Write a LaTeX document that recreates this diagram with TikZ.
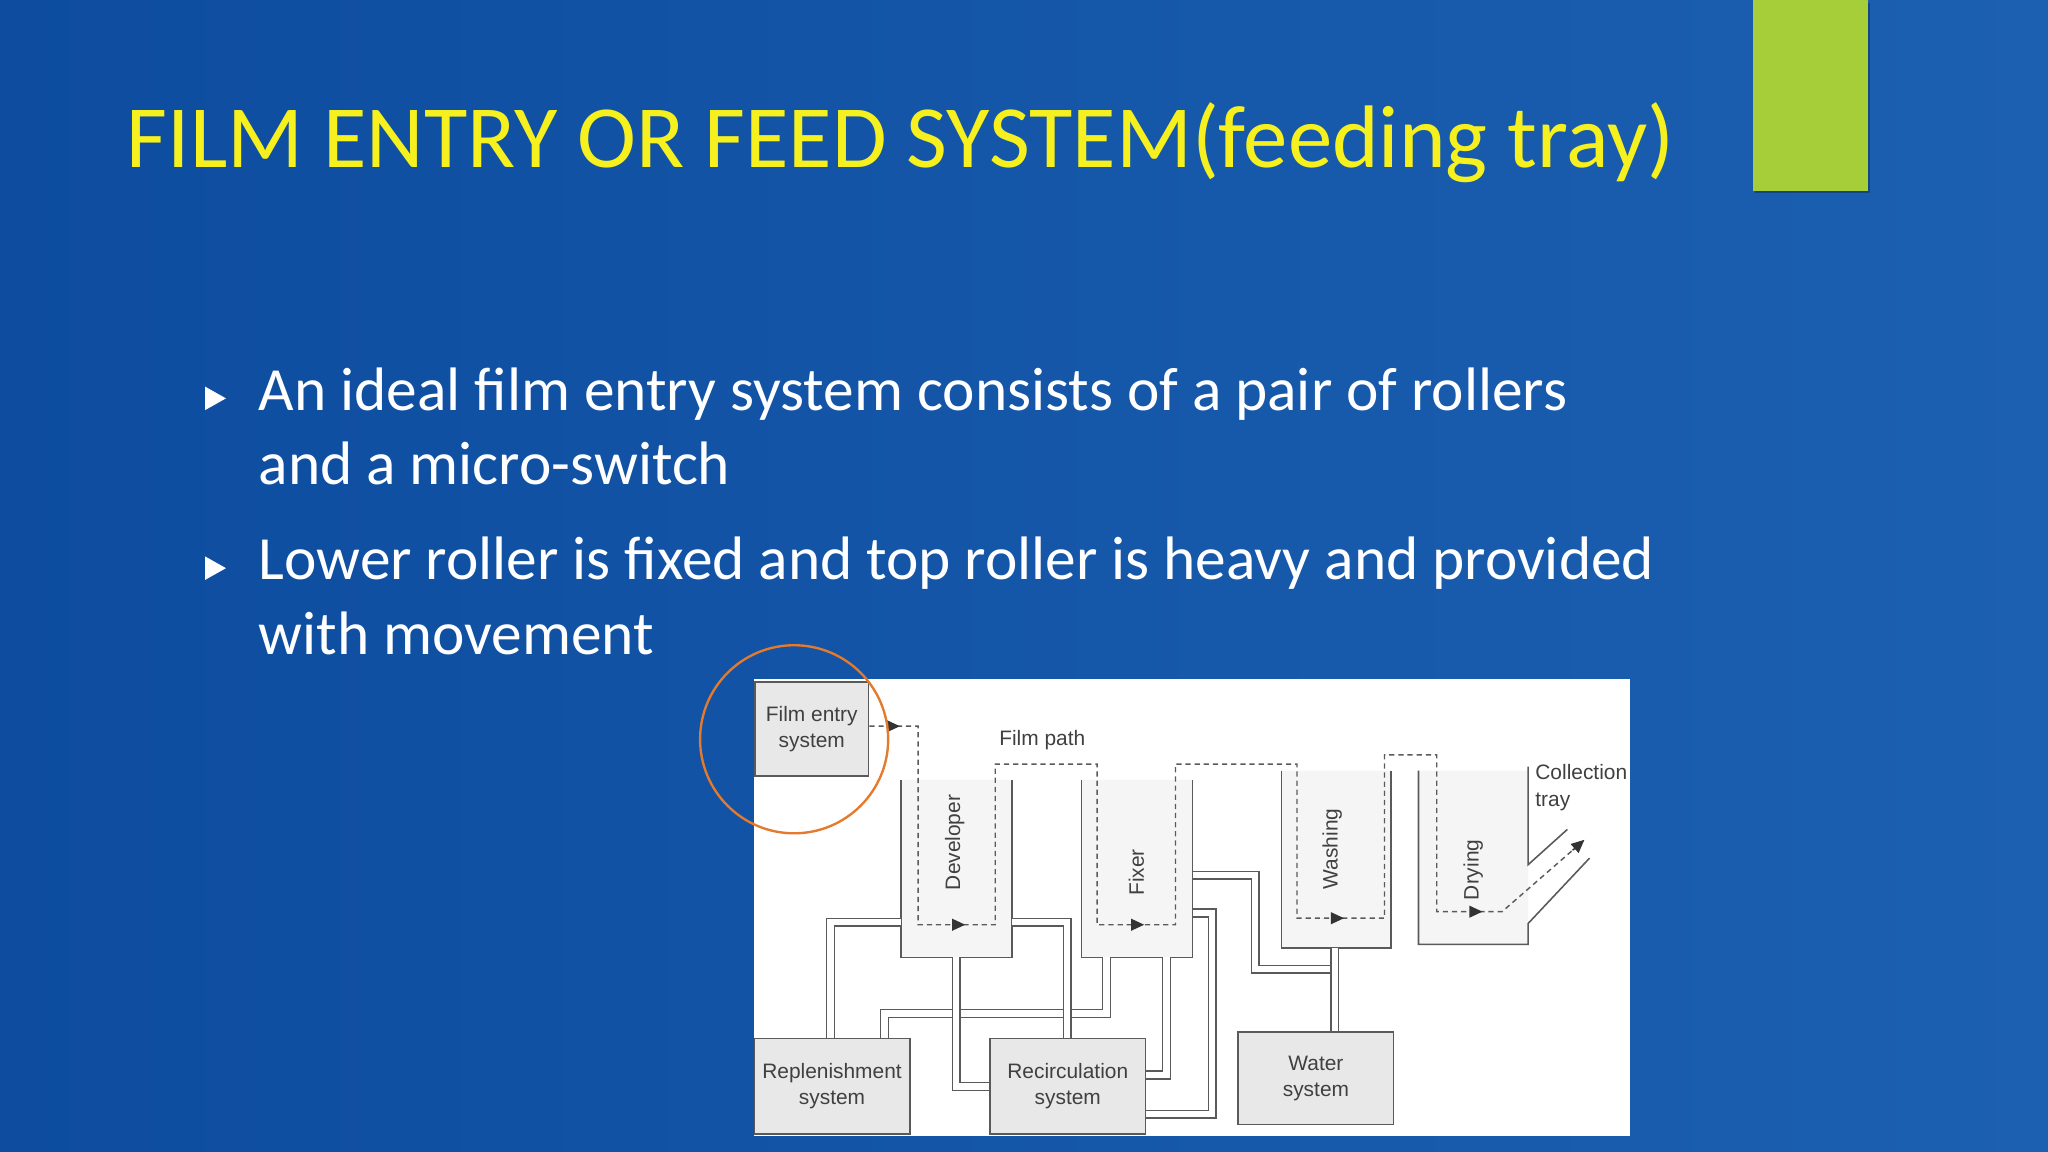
\documentclass[tikz,border=0pt]{standalone}
\usepackage{fontspec}
\setmainfont{Carlito}
\newfontfamily\diagfont{Liberation Sans}
\usetikzlibrary{arrows.meta}
\definecolor{bgblue}{RGB}{13,76,158}
\definecolor{bgblueB}{RGB}{28,96,178}
\definecolor{ttl}{RGB}{245,240,30}
\definecolor{grn}{RGB}{166,206,57}
\definecolor{ornge}{RGB}{228,122,44}
\definecolor{ln}{RGB}{90,90,90}
\tikzset{
 bullet/.style={white,font=\fontsize{47}{56}\selectfont,anchor=base west,inner sep=0},
 box/.style={draw=ln,line width=1.2pt,fill=gray!18,font=\diagfont\fontsize{16}{20}\selectfont,text=black!75,align=center,inner sep=0pt},
 tank/.style={draw=ln,line width=1.2pt},
 pipe/.style={draw=ln,line width=1pt,double=white,double distance=5pt},
 film/.style={draw=ln,line width=1.1pt,dash pattern=on 4pt off 3pt},
 lbl/.style={font=\diagfont\fontsize{16}{20}\selectfont,text=black!75},
 tip/.style={-{Triangle[length=10pt,width=9pt]},black!80,line width=1.1pt}
}
\begin{document}
\begin{tikzpicture}[x=1pt,y=-1pt]
\useasboundingbox (0,0) rectangle (1568,882);
\shade[left color=bgblue,right color=bgblueB] (0,0) rectangle (1568,882);
\fill[black,opacity=0.25] (1344,2) rectangle (1432,148);
\fill[grn] (1342,0) rectangle (1430,146);
\node[ttl,anchor=base west,font=\fontsize{68}{72}\selectfont,inner sep=0] (title) at (97,128) {FILM ENTRY OR FEED SYSTEM(feeding tray)};
\fill[white] (157,296) -- (173,305) -- (157,314) -- cycle;
\node[bullet] (t1a) at (198,314) {An ideal film entry system consists of a pair of rollers};
\node[bullet] (t1b) at (198,371) {and a micro-switch};
\fill[white] (157,426) -- (173,435) -- (157,444) -- cycle;
\node[bullet] (t2a) at (198,444) {Lower roller is fixed and top roller is heavy and provided};
\node[bullet] (t2b) at (198,501) {with movement};
% diagram panel
\fill[white] (577,520) rectangle (1248,870);
\begin{scope}
\clip (577,520) rectangle (1248,870);
\fill[gray!8] (690,597) rectangle (775,733) (828,597) rectangle (913,733) (981,590) rectangle (1065,726) (1086,590) rectangle (1170,723);
\draw[tank] (690,597) -- (690,733) -- (775,733) -- (775,597);
\draw[tank] (828,597) -- (828,733) -- (913,733) -- (913,597);
\draw[tank] (981,590) -- (981,726) -- (1065,726) -- (1065,590);
\draw[tank] (1086,590) -- (1086,723) -- (1170,723) -- (1170,707) -- (1217,657);
\draw[draw=ln,line width=1.2pt] (1170,587) -- (1170,662) -- (1200,635);
\draw[pipe] (636,795) -- (636,706) -- (690,706);
\draw[pipe] (677,795) -- (677,776) -- (847,776) -- (847,733);
\draw[pipe] (732,733) -- (732,832) -- (758,832);
\draw[pipe] (817,795) -- (817,706) -- (775,706);
\draw[pipe] (893,733) -- (893,823) -- (877,823);
\draw[pipe] (913,699) -- (928,699) -- (928,853) -- (877,853);
\draw[pipe] (913,670) -- (961,670) -- (961,742) -- (1022,742);
\draw[pipe] (1022,790) -- (1022,726);
\node[box,minimum width=87pt,minimum height=72pt] (entry) at (621.5,558) {Film entry\\system};
\node[box,minimum width=119pt,minimum height=73pt] (rep) at (637,831.5) {Replenishment\\system};
\node[box,minimum width=119pt,minimum height=73pt] (rec) at (817.5,831.5) {Recirculation\\system};
\node[box,minimum width=119pt,minimum height=71pt] (water) at (1007.5,825.5) {Water\\system};
\coordinate (f1) at (703,556); \coordinate (f2) at (703,708); \coordinate (f3) at (762,708);
\coordinate (f4) at (762,585); \coordinate (f5) at (840,585); \coordinate (f6) at (840,708);
\coordinate (f7) at (900,708); \coordinate (f8) at (900,585); \coordinate (f9) at (993,585);
\coordinate (f10) at (993,703); \coordinate (f11) at (1060,703); \coordinate (f12) at (1060,578);
\coordinate (f13) at (1100,578); \coordinate (f14) at (1100,698); \coordinate (f15) at (1150,698);
\coordinate (f16) at (1212,644);
\draw[film] (entry.east |- f1) -- (f1) -- (f2) -- (f3) -- (f4) -- (f5) -- (f6) -- (f7) -- (f8) -- (f9) -- (f10) -- (f11) -- (f12) -- (f13) -- (f14) -- (f15) -- (f16);
\draw[tip] (680,556) -- (689,556);
\draw[tip] (730,708) -- (739,708);
\draw[tip] (867,708) -- (876,708);
\draw[tip] (1020,703) -- (1029,703);
\draw[tip] (1126,698) -- (1135,698);
\draw[tip] (1204,651) -- (1213,643);
\node[lbl] (fp) at (798,567) {Film path};
\node[lbl,rotate=90] (dev) at (731,645) {Developer};
\node[lbl,rotate=90] (fix) at (870,668) {Fixer};
\node[lbl,rotate=90] (wash) at (1020,650) {Washing};
\node[lbl,rotate=90] (dry) at (1128,666) {Drying};
\node[lbl,anchor=north west,align=left] (coll) at (1172,582) {Collection\\tray};
\end{scope}
\draw[ornge,line width=1.8pt] (608,566) circle (72);
\end{tikzpicture}
\end{document}
